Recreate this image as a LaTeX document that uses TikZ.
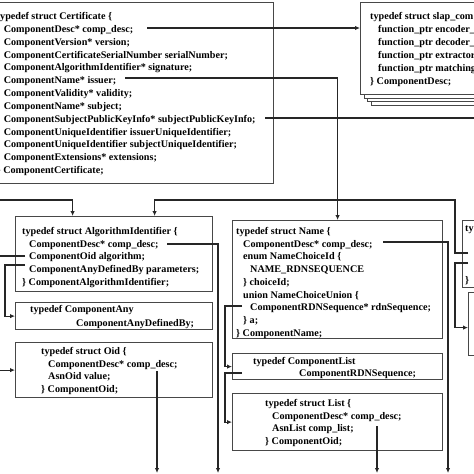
\documentclass[tikz,border=0pt]{standalone}
\usepackage{fontspec}
\setmainfont{Liberation Serif}
\usetikzlibrary{arrows.meta}
\newcommand{\idt}{\hspace*{7pt}}
\begin{document}
\begin{tikzpicture}[x = 1pt, y = -1pt,
  box/.style = {draw = black!72, line width = 1.2pt, fill = white, anchor = north west, inner sep = 0pt},
  code/.style = {anchor = base west, inner sep = 0pt, align = left, font = \fontsize{10.15}{12.7}\selectfont\bfseries},
  link/.style = {draw = black!85, line width = 1.1pt},
  arr/.style = {link, -{Latex[length = 5pt, width = 4.5pt]}}]
\useasboundingbox (0,0) rectangle (474,474);
\clip (0,0) rectangle (474,474);
\node [box, minimum width = 281pt, minimum height = 181pt] (cert) at (-8,2) {};
\foreach \k in {3,2,1}
  \node [box, minimum width = 140pt, minimum height = 92pt] (cd-\k) at (360+3.5*\k,2+3.5*\k) {};
\node [box, minimum width = 140pt, minimum height = 92pt] (cd) at (360,2) {};
\node [box, minimum width = 197pt, minimum height = 75pt] (alg) at (15,216) {};
\node [box, minimum width = 197pt, minimum height = 27pt] (any) at (15,302) {};
\node [box, minimum width = 197pt, minimum height = 55pt] (oid) at (15,342) {};
\node [box, minimum width = 210pt, minimum height = 118pt] (name) at (232,220) {};
\node [box, minimum width = 210pt, minimum height = 26pt] (rdnlist) at (232,353) {};
\node [box, minimum width = 210pt, minimum height = 57pt] (list) at (232,393) {};
\node [box, minimum width = 40pt, minimum height = 67pt] (keyinfo) at (462,220) {};
\node [box, minimum width = 40pt, minimum height = 63pt] (keypart) at (468,292) {};
\node [code, font = \fontsize{10.15}{12.83}\selectfont\bfseries] (cert-text) at (-3.4,173.5) {typedef struct Certificate \{\\
  \idt ComponentDesc* comp\_desc;\\
  \idt ComponentVersion* version;\\
  \idt ComponentCertificateSerialNumber serialNumber;\\
  \idt ComponentAlgorithmIdentifier* signature;\\
  \idt ComponentName* issuer;\\
  \idt ComponentValidity* validity;\\
  \idt ComponentName* subject;\\
  \idt ComponentSubjectPublicKeyInfo* subjectPublicKeyInfo;\\
  \idt ComponentUniqueIdentifier issuerUniqueIdentifier;\\
  \idt ComponentUniqueIdentifier subjectUniqueIdentifier;\\
  \idt ComponentExtensions* extensions;\\
  \} ComponentCertificate;};
\node [code, font = \fontsize{10.15}{13}\selectfont\bfseries] (cd-text) at (370,84.5) {typedef struct slap\_com\\
  \hspace*{8pt}function\_ptr encoder\_\\
  \hspace*{8pt}function\_ptr decoder\_\\
  \hspace*{8pt}function\_ptr extractor\\
  \hspace*{8pt}function\_ptr matching\\
  \} ComponentDesc;};
\node [code] (alg-text) at (22,285.3) {typedef struct AlgorithmIdentifier \{\\
  \idt ComponentDesc* comp\_desc;\\
  \idt ComponentOid algorithm;\\
  \idt ComponentAnyDefinedBy parameters;\\
  \} ComponentAlgorithmIdentifier;};
\node [code, font = \fontsize{10.15}{14}\selectfont\bfseries] (any-text) at (30,326) {typedef ComponentAny\\
  \hspace*{46pt}ComponentAnyDefinedBy;};
\node [code] (oid-text) at (41,392.6) {typedef struct Oid \{\\
  \idt ComponentDesc* comp\_desc;\\
  \idt AsnOid value;\\
  \} ComponentOid;};
\node [code] (name-text) at (236,336.1) {typedef struct Name \{\\
  \idt ComponentDesc* comp\_desc;\\
  \idt enum NameChoiceId \{\\
  \idt\idt NAME\_RDNSEQUENCE\\
  \idt \} choiceId;\\
  \idt union NameChoiceUnion \{\\
  \idt\idt ComponentRDNSequence* rdnSequence;\\
  \idt \} a;\\
  \} ComponentName;};
\node [code, font = \fontsize{10.15}{12}\selectfont\bfseries] (rdnlist-text) at (253,376.5) {typedef ComponentList\\
  \hspace*{46pt}ComponentRDNSequence;};
\node [code] (list-text) at (265,444.6) {typedef struct List \{\\
  \idt ComponentDesc* comp\_desc;\\
  \idt AsnList comp\_list;\\
  \} ComponentOid;};
\node [code] (keyinfo-top) at (465,231.5) {ty};
\node [code] (keyinfo-end) at (465,283.5) {\}};
\coordinate (cert-desc) at (147,28);
\coordinate (cert-sig) at (-10,200);
\coordinate (cert-issuer) at (125,78);
\coordinate (cert-key) at (265,118);
\coordinate (key-out) at (490,118);
\coordinate (key-alg) at (468,253);
\coordinate (key-bits) at (468,263);
\coordinate (alg-desc) at (167,244);
\coordinate (alg-oid) at (25,256);
\coordinate (alg-any) at (25,265);
\coordinate (oid-value) at (157,371);
\coordinate (name-desc) at (383,242);
\coordinate (name-rdn) at (242,306);
\coordinate (rdnlist-seq) at (242,373);
\coordinate (list-desc) at (377,426);
\draw [arr] (cert-desc) -- (cert-desc -| cd.west);
\draw [arr] (cert-issuer) -| (name.north);
\draw [link] (cert-key) -- (key-out);
\draw [arr] (cert-sig) -| ([xshift = -41.5pt]alg.north);
\draw [arr] (key-alg) -- (455,253) -- (455,200) -| ([xshift = 40.5pt]alg.north);
\draw [arr] (key-bits) -- (455,263) |- ([yshift = -3.5pt]keypart.west);
\draw [arr] (alg-oid) -- (-8,256) |- (oid.west);
\draw [arr] (alg-any) -- (5,265) |- (any.west);
\draw [arr] (alg-desc) -- (218,244) -- (218,473);
\draw [arr] (oid-value) -- (157,473);
\draw [arr] (name-desc) -- (448,242) -- (448,473);
\draw [arr] (name-rdn) -- (225,306) |- (rdnlist.west);
\draw [arr] (rdnlist-seq) -- (225,373) |- (list.west);
\draw [arr] (list-desc) -- (377,473);
\end{tikzpicture}
\end{document}
